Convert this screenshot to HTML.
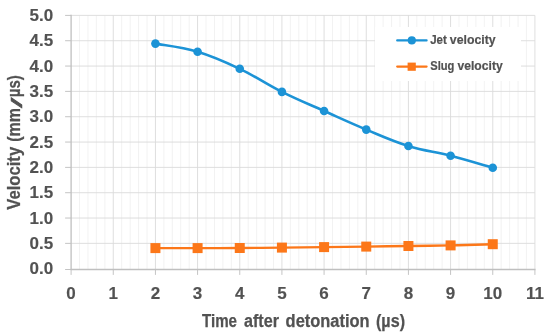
<!DOCTYPE html>
<html><head><meta charset="utf-8"><title>Jet and slug velocity</title>
<style>html,body{margin:0;padding:0;background:#fff}body{width:550px;height:336px;overflow:hidden}</style></head>
<body>
<svg width="550" height="336" viewBox="0 0 550 336" style="display:block">
<rect width="550" height="336" fill="#fff"/>
<line x1="79.53" y1="15.4" x2="79.53" y2="269.5" stroke="#f0f0f0" stroke-width="0.9"/>
<line x1="87.97" y1="15.4" x2="87.97" y2="269.5" stroke="#f0f0f0" stroke-width="0.9"/>
<line x1="96.40" y1="15.4" x2="96.40" y2="269.5" stroke="#f0f0f0" stroke-width="0.9"/>
<line x1="104.83" y1="15.4" x2="104.83" y2="269.5" stroke="#f0f0f0" stroke-width="0.9"/>
<line x1="121.70" y1="15.4" x2="121.70" y2="269.5" stroke="#f0f0f0" stroke-width="0.9"/>
<line x1="130.13" y1="15.4" x2="130.13" y2="269.5" stroke="#f0f0f0" stroke-width="0.9"/>
<line x1="138.56" y1="15.4" x2="138.56" y2="269.5" stroke="#f0f0f0" stroke-width="0.9"/>
<line x1="147.00" y1="15.4" x2="147.00" y2="269.5" stroke="#f0f0f0" stroke-width="0.9"/>
<line x1="163.86" y1="15.4" x2="163.86" y2="269.5" stroke="#f0f0f0" stroke-width="0.9"/>
<line x1="172.30" y1="15.4" x2="172.30" y2="269.5" stroke="#f0f0f0" stroke-width="0.9"/>
<line x1="180.73" y1="15.4" x2="180.73" y2="269.5" stroke="#f0f0f0" stroke-width="0.9"/>
<line x1="189.16" y1="15.4" x2="189.16" y2="269.5" stroke="#f0f0f0" stroke-width="0.9"/>
<line x1="206.03" y1="15.4" x2="206.03" y2="269.5" stroke="#f0f0f0" stroke-width="0.9"/>
<line x1="214.46" y1="15.4" x2="214.46" y2="269.5" stroke="#f0f0f0" stroke-width="0.9"/>
<line x1="222.89" y1="15.4" x2="222.89" y2="269.5" stroke="#f0f0f0" stroke-width="0.9"/>
<line x1="231.33" y1="15.4" x2="231.33" y2="269.5" stroke="#f0f0f0" stroke-width="0.9"/>
<line x1="248.19" y1="15.4" x2="248.19" y2="269.5" stroke="#f0f0f0" stroke-width="0.9"/>
<line x1="256.63" y1="15.4" x2="256.63" y2="269.5" stroke="#f0f0f0" stroke-width="0.9"/>
<line x1="265.06" y1="15.4" x2="265.06" y2="269.5" stroke="#f0f0f0" stroke-width="0.9"/>
<line x1="273.49" y1="15.4" x2="273.49" y2="269.5" stroke="#f0f0f0" stroke-width="0.9"/>
<line x1="290.36" y1="15.4" x2="290.36" y2="269.5" stroke="#f0f0f0" stroke-width="0.9"/>
<line x1="298.79" y1="15.4" x2="298.79" y2="269.5" stroke="#f0f0f0" stroke-width="0.9"/>
<line x1="307.22" y1="15.4" x2="307.22" y2="269.5" stroke="#f0f0f0" stroke-width="0.9"/>
<line x1="315.66" y1="15.4" x2="315.66" y2="269.5" stroke="#f0f0f0" stroke-width="0.9"/>
<line x1="332.52" y1="15.4" x2="332.52" y2="269.5" stroke="#f0f0f0" stroke-width="0.9"/>
<line x1="340.96" y1="15.4" x2="340.96" y2="269.5" stroke="#f0f0f0" stroke-width="0.9"/>
<line x1="349.39" y1="15.4" x2="349.39" y2="269.5" stroke="#f0f0f0" stroke-width="0.9"/>
<line x1="357.82" y1="15.4" x2="357.82" y2="269.5" stroke="#f0f0f0" stroke-width="0.9"/>
<line x1="374.69" y1="15.4" x2="374.69" y2="269.5" stroke="#f0f0f0" stroke-width="0.9"/>
<line x1="383.12" y1="15.4" x2="383.12" y2="269.5" stroke="#f0f0f0" stroke-width="0.9"/>
<line x1="391.55" y1="15.4" x2="391.55" y2="269.5" stroke="#f0f0f0" stroke-width="0.9"/>
<line x1="399.99" y1="15.4" x2="399.99" y2="269.5" stroke="#f0f0f0" stroke-width="0.9"/>
<line x1="416.85" y1="15.4" x2="416.85" y2="269.5" stroke="#f0f0f0" stroke-width="0.9"/>
<line x1="425.29" y1="15.4" x2="425.29" y2="269.5" stroke="#f0f0f0" stroke-width="0.9"/>
<line x1="433.72" y1="15.4" x2="433.72" y2="269.5" stroke="#f0f0f0" stroke-width="0.9"/>
<line x1="442.15" y1="15.4" x2="442.15" y2="269.5" stroke="#f0f0f0" stroke-width="0.9"/>
<line x1="459.02" y1="15.4" x2="459.02" y2="269.5" stroke="#f0f0f0" stroke-width="0.9"/>
<line x1="467.45" y1="15.4" x2="467.45" y2="269.5" stroke="#f0f0f0" stroke-width="0.9"/>
<line x1="475.88" y1="15.4" x2="475.88" y2="269.5" stroke="#f0f0f0" stroke-width="0.9"/>
<line x1="484.32" y1="15.4" x2="484.32" y2="269.5" stroke="#f0f0f0" stroke-width="0.9"/>
<line x1="501.18" y1="15.4" x2="501.18" y2="269.5" stroke="#f0f0f0" stroke-width="0.9"/>
<line x1="509.62" y1="15.4" x2="509.62" y2="269.5" stroke="#f0f0f0" stroke-width="0.9"/>
<line x1="518.05" y1="15.4" x2="518.05" y2="269.5" stroke="#f0f0f0" stroke-width="0.9"/>
<line x1="526.48" y1="15.4" x2="526.48" y2="269.5" stroke="#f0f0f0" stroke-width="0.9"/>
<line x1="71.1" y1="243.37" x2="534.91" y2="243.37" stroke="#dadada" stroke-width="0.9"/>
<line x1="71.1" y1="218.04" x2="534.91" y2="218.04" stroke="#dadada" stroke-width="0.9"/>
<line x1="71.1" y1="192.71" x2="534.91" y2="192.71" stroke="#dadada" stroke-width="0.9"/>
<line x1="71.1" y1="167.38" x2="534.91" y2="167.38" stroke="#dadada" stroke-width="0.9"/>
<line x1="71.1" y1="142.05" x2="534.91" y2="142.05" stroke="#dadada" stroke-width="0.9"/>
<line x1="71.1" y1="116.72" x2="534.91" y2="116.72" stroke="#dadada" stroke-width="0.9"/>
<line x1="71.1" y1="91.39" x2="534.91" y2="91.39" stroke="#dadada" stroke-width="0.9"/>
<line x1="71.1" y1="66.06" x2="534.91" y2="66.06" stroke="#dadada" stroke-width="0.9"/>
<line x1="71.1" y1="40.73" x2="534.91" y2="40.73" stroke="#dadada" stroke-width="0.9"/>
<line x1="71.1" y1="15.40" x2="534.91" y2="15.40" stroke="#dadada" stroke-width="0.9"/>
<line x1="113.26" y1="15.4" x2="113.26" y2="269.5" stroke="#dadada" stroke-width="0.9"/>
<line x1="155.43" y1="15.4" x2="155.43" y2="269.5" stroke="#dadada" stroke-width="0.9"/>
<line x1="197.59" y1="15.4" x2="197.59" y2="269.5" stroke="#dadada" stroke-width="0.9"/>
<line x1="239.76" y1="15.4" x2="239.76" y2="269.5" stroke="#dadada" stroke-width="0.9"/>
<line x1="281.92" y1="15.4" x2="281.92" y2="269.5" stroke="#dadada" stroke-width="0.9"/>
<line x1="324.09" y1="15.4" x2="324.09" y2="269.5" stroke="#dadada" stroke-width="0.9"/>
<line x1="366.25" y1="15.4" x2="366.25" y2="269.5" stroke="#dadada" stroke-width="0.9"/>
<line x1="408.42" y1="15.4" x2="408.42" y2="269.5" stroke="#dadada" stroke-width="0.9"/>
<line x1="450.59" y1="15.4" x2="450.59" y2="269.5" stroke="#dadada" stroke-width="0.9"/>
<line x1="492.75" y1="15.4" x2="492.75" y2="269.5" stroke="#dadada" stroke-width="0.9"/>
<line x1="534.91" y1="15.4" x2="534.91" y2="269.5" stroke="#dadada" stroke-width="0.9"/>
<line x1="65.10" y1="269.50" x2="71.1" y2="269.50" stroke="#c4c4c4" stroke-width="1"/>
<line x1="65.10" y1="243.37" x2="71.1" y2="243.37" stroke="#c4c4c4" stroke-width="1"/>
<line x1="65.10" y1="218.04" x2="71.1" y2="218.04" stroke="#c4c4c4" stroke-width="1"/>
<line x1="65.10" y1="192.71" x2="71.1" y2="192.71" stroke="#c4c4c4" stroke-width="1"/>
<line x1="65.10" y1="167.38" x2="71.1" y2="167.38" stroke="#c4c4c4" stroke-width="1"/>
<line x1="65.10" y1="142.05" x2="71.1" y2="142.05" stroke="#c4c4c4" stroke-width="1"/>
<line x1="65.10" y1="116.72" x2="71.1" y2="116.72" stroke="#c4c4c4" stroke-width="1"/>
<line x1="65.10" y1="91.39" x2="71.1" y2="91.39" stroke="#c4c4c4" stroke-width="1"/>
<line x1="65.10" y1="66.06" x2="71.1" y2="66.06" stroke="#c4c4c4" stroke-width="1"/>
<line x1="65.10" y1="40.73" x2="71.1" y2="40.73" stroke="#c4c4c4" stroke-width="1"/>
<line x1="65.10" y1="15.40" x2="71.1" y2="15.40" stroke="#c4c4c4" stroke-width="1"/>
<line x1="71.10" y1="269.5" x2="71.10" y2="274.9" stroke="#c4c4c4" stroke-width="1"/>
<line x1="113.26" y1="269.5" x2="113.26" y2="274.9" stroke="#c4c4c4" stroke-width="1"/>
<line x1="155.43" y1="269.5" x2="155.43" y2="274.9" stroke="#c4c4c4" stroke-width="1"/>
<line x1="197.59" y1="269.5" x2="197.59" y2="274.9" stroke="#c4c4c4" stroke-width="1"/>
<line x1="239.76" y1="269.5" x2="239.76" y2="274.9" stroke="#c4c4c4" stroke-width="1"/>
<line x1="281.92" y1="269.5" x2="281.92" y2="274.9" stroke="#c4c4c4" stroke-width="1"/>
<line x1="324.09" y1="269.5" x2="324.09" y2="274.9" stroke="#c4c4c4" stroke-width="1"/>
<line x1="366.25" y1="269.5" x2="366.25" y2="274.9" stroke="#c4c4c4" stroke-width="1"/>
<line x1="408.42" y1="269.5" x2="408.42" y2="274.9" stroke="#c4c4c4" stroke-width="1"/>
<line x1="450.59" y1="269.5" x2="450.59" y2="274.9" stroke="#c4c4c4" stroke-width="1"/>
<line x1="492.75" y1="269.5" x2="492.75" y2="274.9" stroke="#c4c4c4" stroke-width="1"/>
<line x1="534.91" y1="269.5" x2="534.91" y2="274.9" stroke="#c4c4c4" stroke-width="1"/>
<line x1="71.1" y1="14.8" x2="71.1" y2="270.1" stroke="#bfbfbf" stroke-width="1.3"/>
<line x1="70.5" y1="269.5" x2="535.51" y2="269.5" stroke="#bfbfbf" stroke-width="1.3"/>
<rect x="375" y="27" width="146" height="54" fill="#fff"/>
<path d="M155.43,248.10 C163.54,248.10 181.38,248.12 197.59,248.10 C213.81,248.08 223.54,248.10 239.76,248.00 C255.98,247.90 265.71,247.77 281.92,247.60 C298.14,247.43 307.87,247.29 324.09,247.10 C340.31,246.91 350.04,246.81 366.25,246.60 C382.47,246.39 392.20,246.23 408.42,246.00 C424.64,245.77 434.37,245.75 450.59,245.40 C466.80,245.05 484.64,244.43 492.75,244.20" fill="none" stroke="#fc7719" stroke-width="2.4" stroke-linecap="round"/>
<rect x="150.43" y="243.10" width="10" height="10" fill="#fc7719"/>
<rect x="192.59" y="243.10" width="10" height="10" fill="#fc7719"/>
<rect x="234.76" y="243.00" width="10" height="10" fill="#fc7719"/>
<rect x="276.92" y="242.60" width="10" height="10" fill="#fc7719"/>
<rect x="319.09" y="242.10" width="10" height="10" fill="#fc7719"/>
<rect x="361.25" y="241.60" width="10" height="10" fill="#fc7719"/>
<rect x="403.42" y="241.00" width="10" height="10" fill="#fc7719"/>
<rect x="445.59" y="240.40" width="10" height="10" fill="#fc7719"/>
<rect x="487.75" y="239.20" width="10" height="10" fill="#fc7719"/>
<path d="M155.43,43.60 C163.54,45.16 181.38,46.85 197.59,51.70 C213.81,56.55 223.54,61.07 239.76,68.80 C255.98,76.53 265.71,83.78 281.92,91.90 C298.14,100.02 307.87,103.75 324.09,111.00 C340.31,118.25 350.04,122.87 366.25,129.60 C382.47,136.33 392.20,140.96 408.42,146.00 C424.64,151.04 434.37,151.61 450.59,155.80 C466.80,159.99 484.64,165.49 492.75,167.80" fill="none" stroke="#1c93d6" stroke-width="2.6" stroke-linecap="round"/>
<circle cx="155.43" cy="43.60" r="4.3" fill="#1c93d6"/>
<circle cx="197.59" cy="51.70" r="4.3" fill="#1c93d6"/>
<circle cx="239.76" cy="68.80" r="4.3" fill="#1c93d6"/>
<circle cx="281.92" cy="91.90" r="4.3" fill="#1c93d6"/>
<circle cx="324.09" cy="111.00" r="4.3" fill="#1c93d6"/>
<circle cx="366.25" cy="129.60" r="4.3" fill="#1c93d6"/>
<circle cx="408.42" cy="146.00" r="4.3" fill="#1c93d6"/>
<circle cx="450.59" cy="155.80" r="4.3" fill="#1c93d6"/>
<circle cx="492.75" cy="167.80" r="4.3" fill="#1c93d6"/>
<line x1="397.2" y1="40.4" x2="426.6" y2="40.4" stroke="#1c93d6" stroke-width="2.2" stroke-linecap="round"/>
<circle cx="411.8" cy="40.4" r="4.1" fill="#1c93d6"/>
<line x1="397.2" y1="66.6" x2="426.6" y2="66.6" stroke="#fc7719" stroke-width="2.2" stroke-linecap="round"/>
<rect x="407.6" y="62.6" width="8.2" height="8.2" fill="#fc7719"/>
<text font-family="Liberation Sans, sans-serif" font-weight="bold" stroke="#525252" stroke-linejoin="round" font-size="12.2" fill="#525252" stroke-width="0.2"><tspan x="430.2" y="44.4" textLength="16.70" lengthAdjust="spacingAndGlyphs">Jet</tspan> <tspan x="449.8" y="44.4" textLength="45.80" lengthAdjust="spacingAndGlyphs">velocity</tspan></text>
<text font-family="Liberation Sans, sans-serif" font-weight="bold" stroke="#525252" stroke-linejoin="round" font-size="12.2" fill="#525252" stroke-width="0.2"><tspan x="430.2" y="70.4" textLength="24.20" lengthAdjust="spacingAndGlyphs">Slug</tspan> <tspan x="457.5" y="70.4" textLength="45.20" lengthAdjust="spacingAndGlyphs">velocity</tspan></text>
<text x="53.2" y="274.40" font-family="Liberation Sans, sans-serif" font-weight="bold" stroke="#525252" stroke-linejoin="round" stroke-width="0.15" font-size="17" fill="#525252" text-anchor="end">0.0</text>
<text x="53.2" y="249.07" font-family="Liberation Sans, sans-serif" font-weight="bold" stroke="#525252" stroke-linejoin="round" stroke-width="0.15" font-size="17" fill="#525252" text-anchor="end">0.5</text>
<text x="53.2" y="223.74" font-family="Liberation Sans, sans-serif" font-weight="bold" stroke="#525252" stroke-linejoin="round" stroke-width="0.15" font-size="17" fill="#525252" text-anchor="end">1.0</text>
<text x="53.2" y="198.41" font-family="Liberation Sans, sans-serif" font-weight="bold" stroke="#525252" stroke-linejoin="round" stroke-width="0.15" font-size="17" fill="#525252" text-anchor="end">1.5</text>
<text x="53.2" y="173.08" font-family="Liberation Sans, sans-serif" font-weight="bold" stroke="#525252" stroke-linejoin="round" stroke-width="0.15" font-size="17" fill="#525252" text-anchor="end">2.0</text>
<text x="53.2" y="147.75" font-family="Liberation Sans, sans-serif" font-weight="bold" stroke="#525252" stroke-linejoin="round" stroke-width="0.15" font-size="17" fill="#525252" text-anchor="end">2.5</text>
<text x="53.2" y="122.42" font-family="Liberation Sans, sans-serif" font-weight="bold" stroke="#525252" stroke-linejoin="round" stroke-width="0.15" font-size="17" fill="#525252" text-anchor="end">3.0</text>
<text x="53.2" y="97.09" font-family="Liberation Sans, sans-serif" font-weight="bold" stroke="#525252" stroke-linejoin="round" stroke-width="0.15" font-size="17" fill="#525252" text-anchor="end">3.5</text>
<text x="53.2" y="71.76" font-family="Liberation Sans, sans-serif" font-weight="bold" stroke="#525252" stroke-linejoin="round" stroke-width="0.15" font-size="17" fill="#525252" text-anchor="end">4.0</text>
<text x="53.2" y="46.43" font-family="Liberation Sans, sans-serif" font-weight="bold" stroke="#525252" stroke-linejoin="round" stroke-width="0.15" font-size="17" fill="#525252" text-anchor="end">4.5</text>
<text x="53.2" y="21.10" font-family="Liberation Sans, sans-serif" font-weight="bold" stroke="#525252" stroke-linejoin="round" stroke-width="0.15" font-size="17" fill="#525252" text-anchor="end">5.0</text>
<text x="71.10" y="299.1" font-family="Liberation Sans, sans-serif" font-weight="bold" stroke="#525252" stroke-linejoin="round" stroke-width="0.15" font-size="17" fill="#525252" text-anchor="middle">0</text>
<text x="113.26" y="299.1" font-family="Liberation Sans, sans-serif" font-weight="bold" stroke="#525252" stroke-linejoin="round" stroke-width="0.15" font-size="17" fill="#525252" text-anchor="middle">1</text>
<text x="155.43" y="299.1" font-family="Liberation Sans, sans-serif" font-weight="bold" stroke="#525252" stroke-linejoin="round" stroke-width="0.15" font-size="17" fill="#525252" text-anchor="middle">2</text>
<text x="197.59" y="299.1" font-family="Liberation Sans, sans-serif" font-weight="bold" stroke="#525252" stroke-linejoin="round" stroke-width="0.15" font-size="17" fill="#525252" text-anchor="middle">3</text>
<text x="239.76" y="299.1" font-family="Liberation Sans, sans-serif" font-weight="bold" stroke="#525252" stroke-linejoin="round" stroke-width="0.15" font-size="17" fill="#525252" text-anchor="middle">4</text>
<text x="281.92" y="299.1" font-family="Liberation Sans, sans-serif" font-weight="bold" stroke="#525252" stroke-linejoin="round" stroke-width="0.15" font-size="17" fill="#525252" text-anchor="middle">5</text>
<text x="324.09" y="299.1" font-family="Liberation Sans, sans-serif" font-weight="bold" stroke="#525252" stroke-linejoin="round" stroke-width="0.15" font-size="17" fill="#525252" text-anchor="middle">6</text>
<text x="366.25" y="299.1" font-family="Liberation Sans, sans-serif" font-weight="bold" stroke="#525252" stroke-linejoin="round" stroke-width="0.15" font-size="17" fill="#525252" text-anchor="middle">7</text>
<text x="408.42" y="299.1" font-family="Liberation Sans, sans-serif" font-weight="bold" stroke="#525252" stroke-linejoin="round" stroke-width="0.15" font-size="17" fill="#525252" text-anchor="middle">8</text>
<text x="450.59" y="299.1" font-family="Liberation Sans, sans-serif" font-weight="bold" stroke="#525252" stroke-linejoin="round" stroke-width="0.15" font-size="17" fill="#525252" text-anchor="middle">9</text>
<text x="492.75" y="299.1" font-family="Liberation Sans, sans-serif" font-weight="bold" stroke="#525252" stroke-linejoin="round" stroke-width="0.15" font-size="17" fill="#525252" text-anchor="middle">10</text>
<text x="534.91" y="299.1" font-family="Liberation Sans, sans-serif" font-weight="bold" stroke="#525252" stroke-linejoin="round" stroke-width="0.15" font-size="17" fill="#525252" text-anchor="middle">11</text>
<text font-family="Liberation Sans, sans-serif" font-weight="bold" stroke="#525252" stroke-linejoin="round" font-size="17.6" fill="#525252" stroke-width="0.25"><tspan x="202" y="326.7" textLength="35.00" lengthAdjust="spacingAndGlyphs">Time</tspan> <tspan x="244" y="326.7" textLength="35.00" lengthAdjust="spacingAndGlyphs">after</tspan> <tspan x="285.6" y="326.7" textLength="84.00" lengthAdjust="spacingAndGlyphs">detonation</tspan> <tspan x="376" y="326.7" textLength="29.00" lengthAdjust="spacingAndGlyphs">(µs)</tspan></text>
<g transform="translate(19.6,209.5) rotate(-90)">
<text font-family="Liberation Sans, sans-serif" font-weight="bold" stroke="#525252" stroke-linejoin="round" font-size="17.6" fill="#525252" stroke-width="0.25"><tspan x="-0.3" y="0" textLength="63.00" lengthAdjust="spacingAndGlyphs">Velocity</tspan> <tspan x="67.8" y="0" textLength="33.60" lengthAdjust="spacingAndGlyphs">(mm</tspan><tspan x="101.4" y="2.2" textLength="10.30" lengthAdjust="spacingAndGlyphs" font-size="15.4" font-weight="normal" stroke-width="0.5">/</tspan><tspan x="112.3" y="0" textLength="22.10" lengthAdjust="spacingAndGlyphs">µs)</tspan></text>
</g>
</svg>
</body></html>
